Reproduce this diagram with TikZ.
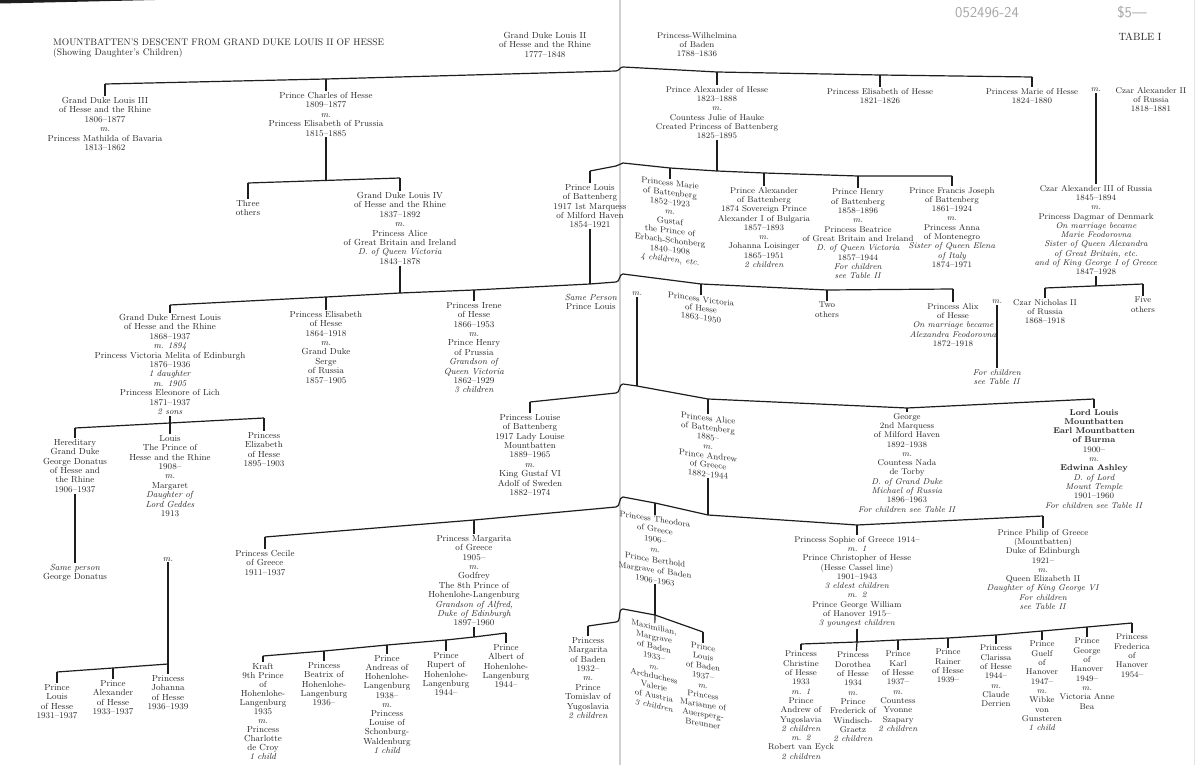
\documentclass[tikz,border=0pt]{standalone}
\usepackage{fontspec}
\usepackage{tikz}
\usetikzlibrary{positioning}
\definecolor{tableink}{HTML}{262626}
\definecolor{tableline}{HTML}{1E1E1E}
\definecolor{gutter}{HTML}{D0D0D0}
\definecolor{pencil}{HTML}{A6A6A6}

\begin{document}
\begin{tikzpicture}[
  x=1pt, y=-1pt,
  verso/.style={align=center, anchor=north, inner sep=1pt, text=tableink,
    font=\fontsize{8.8}{9.4}\selectfont},
  recto/.style={verso, font=\fontsize{8.4}{9.3}\selectfont},
  curled/.style={recto, font=\fontsize{8.2}{10.2}\selectfont},
  heading/.style={anchor=base west, inner sep=0pt, text=tableink,
    font=\fontsize{9.5}{10}\selectfont},
  bar/.style={draw=tableline, line width=1.2pt},
  spine/.style={draw=gutter, line width=2.5pt},
  hand/.style={text=pencil, font=\sffamily\fontsize{15}{15}\selectfont}
]
  \useasboundingbox (0,0) rectangle (1200,765);
  \fill[white] (0,0) rectangle (1200,765);
  \draw[spine] (620,0) -- (620,765);
  \draw[draw=gutter!60, line width=1pt] (1194,0) -- (1194,765);
  \fill[tableline] (0,0) -- (155,0) -- (0,3.5) -- cycle;

  \node[heading] (title) at (53,46) {MOUNTBATTEN'S DESCENT FROM GRAND DUKE LOUIS II OF HESSE};
  \node[heading] (subtitle) at (53,56) {(Showing Daughter's Children)};
  \node[heading, anchor=base, font=\fontsize{10.5}{12}\selectfont] (tableno) at (1140,41) {TABLE I};
  \node[hand] (lotno) at (987,13) {052496-24};
  \node[hand] (price) at (1132,12) {\$5---};

  \node[verso] (louisII) at (545,31) {Grand Duke Louis II\\of Hesse and the Rhine\\1777--1848};
  \node[recto] (wilhelmina) at (697,31) {Princess-Wilhelmina\\of Baden\\1788--1836};

  \node[verso] (louisIII) at (105,96) {Grand Duke Louis III\\of Hesse and the Rhine\\1806--1877\\\textit{m.}\\Princess Mathilda of Bavaria\\1813--1862};
  \node[verso] (charles) at (326,91) {Prince Charles of Hesse\\1809--1877\\\textit{m.}\\Princess Elisabeth of Prussia\\1815--1885};
  \node[recto] (alexHesse) at (717,85) {Prince Alexander of Hesse\\1823--1888\\\textit{m.}\\Countess Julie of Hauke\\Created Princess of Battenberg\\1825--1895};
  \node[recto] (elisabethHesse) at (880,87) {Princess Elisabeth of Hesse\\1821--1826};
  \node[recto] (marieHesse) at (1032,87) {Princess Marie of Hesse\\1824--1880};
  \node[recto] (mMarie) at (1096,87) {\textit{m.}};
  \node[recto] (czarII) at (1151,86) {Czar Alexander II\\of Russia\\1818--1881};

  \node[verso] (three) at (248,199) {Three\\others};
  \node[verso] (louisIV) at (400,191) {Grand Duke Louis IV\\of Hesse and the Rhine\\1837--1892\\\textit{m.}\\Princess Alice\\of Great Britain and Ireland\\\textit{D. of Queen Victoria}\\1843--1878};
  \node[verso] (louisBatt) at (590,183) {Prince Louis\\of Battenberg\\1917 1st Marquess\\of Milford Haven\\1854--1921};
  \node[recto, font=\fontsize{8.4}{9.5}\selectfont, yslant=-0.12] (marieBatt) at (670,179) {Princess Marie\\of Battenberg\\1852--1923\\\textit{m.}\\Gustaf\\the Prince of\\Erbach-Schonberg\\1840--1908\\\textit{4 children, etc.}};
  \node[recto] (alexBatt) at (764,186) {Prince Alexander\\of Battenberg\\1874 Sovereign Prince\\Alexander I of Bulgaria\\1857--1893\\\textit{m.}\\Johanna Loisinger\\1865--1951\\\textit{2 children}};
  \node[recto] (henryBatt) at (858,188) {Prince Henry\\of Battenberg\\1858--1896\\\textit{m.}\\Princess Beatrice\\of Great Britain and Ireland\\\textit{D. of Queen Victoria}\\1857--1944\\\textit{For children}\\\textit{see Table II}};
  \node[recto] (francisBatt) at (952,186) {Prince Francis Joseph\\of Battenberg\\1861--1924\\\textit{m.}\\Princess Anna\\of Montenegro\\\textit{Sister of Queen Elena}\\\textit{of Italy}\\1874--1971};
  \node[recto] (czarIII) at (1096,184) {Czar Alexander III of Russia\\1845--1894\\\textit{m.}\\Princess Dagmar of Denmark\\\textit{On marriage became}\\\textit{Marie Feodorovna}\\\textit{Sister of Queen Alexandra}\\\textit{of Great Britain, etc.}\\\textit{and of King George I of Greece}\\1847--1928};
  \node[recto] (nicholas) at (1045,298) {Czar Nicholas II\\of Russia\\1868--1918};
  \node[recto] (fiveOthers) at (1143,296) {Five\\others};

  \node[verso] (ernest) at (170,313) {Grand Duke Ernest Louis\\of Hesse and the Rhine\\1868--1937\\\textit{m. 1894}\\Princess Victoria Melita of Edinburgh\\1876--1936\\\textit{1 daughter}\\\textit{m. 1905}\\Princess Eleonore of Lich\\1871--1937\\\textit{2 sons}};
  \node[verso] (elisabethSerge) at (326,310) {Princess Elisabeth\\of Hesse\\1864--1918\\\textit{m.}\\Grand Duke\\Serge\\of Russia\\1857--1905};
  \node[verso] (irene) at (474,301) {Princess Irene\\of Hesse\\1866--1953\\\textit{m.}\\Prince Henry\\of Prussia\\\textit{Grandson of}\\\textit{Queen Victoria}\\1862--1929\\\textit{3 children}};
  \node[verso] (samePerson) at (591,293) {\textit{Same Person}\\Prince Louis};
  \node[recto] (mVictoria) at (637,291) {\textit{m.}};
  \node[recto, yslant=-0.14] (victoria) at (701,295) {Princess Victoria\\of Hesse\\1863--1950};
  \node[recto] (twoOthers) at (827,301) {Two\\others};
  \node[recto] (alix) at (953,302) {Princess Alix\\of Hesse\\\textit{On marriage became}\\\textit{Alexandra Feodorovna}\\1872--1918};
  \node[recto] (mAlix) at (997,299) {\textit{m.}};
  \node[recto] (alixChildren) at (997,368) {\textit{For children}\\\textit{see Table II}};

  \node[verso] (donatus) at (75,438) {Hereditary\\Grand Duke\\George Donatus\\of Hesse and\\the Rhine\\1906--1937};
  \node[verso] (louisPrince) at (170,434) {Louis\\The Prince of\\Hesse and the Rhine\\1908--\\\textit{m.}\\Margaret\\\textit{Daughter of}\\\textit{Lord Geddes}\\1913};
  \node[verso] (elizabethHesse) at (264,431) {Princess\\Elizabeth\\of Hesse\\1895--1903};
  \node[verso] (sameDonatus) at (75,563) {\textit{Same person}\\George Donatus};
  \node[verso] (mCecile) at (168,556) {\textit{m.}};
  \node[verso] (louisH) at (57,683) {Prince\\Louis\\of Hesse\\1931--1937};
  \node[verso] (alexanderH) at (113,679) {Prince\\Alexander\\of Hesse\\1933--1937};
  \node[verso] (johanna) at (168,674) {Princess\\Johanna\\of Hesse\\1936--1939};

  \node[verso] (louise) at (530,413) {Princess Louise\\of Battenberg\\1917 Lady Louise\\Mountbatten\\1889--1965\\\textit{m.}\\King Gustaf VI\\Adolf of Sweden\\1882--1974};
  \node[recto, yslant=-0.12] (aliceBatt) at (708,414) {Princess Alice\\of Battenberg\\1885--\\\textit{m.}\\Prince Andrew\\of Greece\\1882--1944};
  \node[recto] (georgeMH) at (907,412) {George\\2nd Marquess\\of Milford Haven\\1892--1938\\\textit{m.}\\Countess Nada\\de Torby\\\textit{D. of Grand Duke}\\\textit{Michael of Russia}\\1896--1963\\\textit{For children see Table II}};
  \node[recto] (lordLouis) at (1094,408) {\textbf{Lord Louis}\\\textbf{Mountbatten}\\\textbf{Earl Mountbatten}\\\textbf{of Burma}\\1900--\\\textit{m.}\\\textbf{Edwina Ashley}\\\textit{D. of Lord}\\\textit{Mount Temple}\\1901--1960\\\textit{For children see Table II}};

  \node[verso] (cecile) at (265,549) {Princess Cecile\\of Greece\\1911--1937};
  \node[verso] (margarita) at (474,534) {Princess Margarita\\of Greece\\1905--\\\textit{m.}\\Godfrey\\The 8th Prince of\\Hohenlohe-Langenburg\\\textit{Grandson of Alfred,}\\\textit{Duke of Edinburgh}\\1897--1960};
  \node[curled, yslant=-0.16] (theodora) at (655,515) {Princess Theodora\\of Greece\\1906--\\\textit{m.}\\Prince Berthold\\Margrave of Baden\\1906--1963};
  \node[recto] (sophie) at (857,535) {Princess Sophie of Greece 1914--\\\textit{m. 1}\\Prince Christopher of Hesse\\(Hesse Cassel line)\\1901--1943\\\textit{3 eldest children}\\\textit{m. 2}\\Prince George William\\of Hanover 1915--\\\textit{3 youngest children}};
  \node[recto] (philip) at (1043,528) {Prince Philip of Greece\\(Mountbatten)\\Duke of Edinburgh\\1921--\\\textit{m.}\\Queen Elizabeth II\\\textit{Daughter of King George VI}\\\textit{For children}\\\textit{see Table II}};

  \node[verso, font=\fontsize{8.8}{9}\selectfont] (kraft) at (263,662) {Kraft\\9th Prince\\of\\Hohenlohe-\\Langenburg\\1935\\\textit{m.}\\Princess\\Charlotte\\de Croy\\\textit{1 child}};
  \node[verso] (beatrix) at (324,661) {Princess\\Beatrix of\\Hohenlohe-\\Langenburg\\1936--};
  \node[verso, font=\fontsize{8.8}{9.2}\selectfont] (andreas) at (387,654) {Prince\\Andreas of\\Hohenlohe-\\Langenburg\\1938--\\\textit{m.}\\Princess\\Louise of\\Schonburg-\\Waldenburg\\\textit{1 child}};
  \node[verso] (rupert) at (446,651) {Prince\\Rupert of\\Hohenlohe-\\Langenburg\\1944--};
  \node[verso] (albert) at (506,643) {Prince\\Albert of\\Hohenlohe-\\Langenburg\\1944--};
  \node[verso] (margaritaBaden) at (588,636) {Princess\\Margarita\\of Baden\\1932--\\\textit{m.}\\Prince\\Tomislav of\\Yugoslavia\\\textit{2 children}};
  \node[curled, font=\fontsize{8.2}{9.8}\selectfont, yslant=-0.22] (maximilian) at (654,623) {Maximilian,\\Margrave\\of Baden\\1933--\\\textit{m.}\\Archduchess\\Valerie\\of Austria\\\textit{3 children}};
  \node[curled, font=\fontsize{8.2}{9.6}\selectfont, yslant=-0.15] (louisBaden) at (703,643) {Prince\\Louis\\of Baden\\1937--\\\textit{m.}\\Princess\\Marianne of\\Auersperg-\\Breunner};

  \node[recto] (christine) at (801,650) {Princess\\Christine\\of Hesse\\1933\\\textit{m. 1}\\Prince\\Andrew of\\Yugoslavia\\\textit{2 children}\\\textit{m. 2}\\Robert van Eyck\\\textit{2 children}};
  \node[recto] (dorothea) at (853,651) {Princess\\Dorothea\\of Hesse\\1934\\\textit{m.}\\Prince\\Frederick of\\Windisch-\\Graetz\\\textit{2 children}};
  \node[recto] (karl) at (898,650) {Prince\\Karl\\of Hesse\\1937--\\\textit{m.}\\Countess\\Yvonne\\Szapary\\\textit{2 children}};
  \node[recto] (rainer) at (948,648) {Prince\\Rainer\\of Hesse\\1939--};
  \node[recto] (clarissa) at (996,644) {Princess\\Clarissa\\of Hesse\\1944--\\\textit{m.}\\Claude\\Derrien};
  \node[recto] (guelf) at (1042,640) {Prince\\Guelf\\of\\Hanover\\1947--\\\textit{m.}\\Wibke\\von\\Gunsteren\\\textit{1 child}};
  \node[recto] (georgeH) at (1087,637) {Prince\\George\\of\\Hanover\\1949--\\\textit{m.}\\Victoria Anne\\Bea};
  \node[recto] (frederica) at (1132,633) {Princess\\Frederica\\of\\Hanover\\1954--};

  \coordinate (t1) at (105,84);
  \coordinate (t2) at (326,79);
  \coordinate (tL) at (616,71);
  \coordinate (tR) at (623,67);
  \coordinate (t4) at (717,72);
  \coordinate (t5) at (880,75);
  \coordinate (t6) at (1032,77);
  \coordinate (c1) at (248,183);
  \coordinate (c2) at (326,180);
  \coordinate (c3) at (400,178);
  \coordinate (b1) at (590,171);
  \coordinate (bL) at (616,166);
  \coordinate (bR) at (623,163);
  \coordinate (b2) at (670,168);
  \coordinate (b3) at (717,171);
  \coordinate (b4) at (764,173);
  \coordinate (b5) at (858,176);
  \coordinate (b6) at (952,176);
  \coordinate (n1) at (1045,288);
  \coordinate (n0) at (1096,286);
  \coordinate (n2) at (1143,284);
  \coordinate (g1) at (170,305);
  \coordinate (g2) at (326,297);
  \coordinate (g3) at (400,293);
  \coordinate (g4) at (474,290);
  \coordinate (g5) at (590,284);
  \coordinate (gL) at (616,282);
  \coordinate (gR) at (623,274);
  \coordinate (g6) at (701,284);
  \coordinate (g7) at (827,290);
  \coordinate (g8) at (953,289);
  \coordinate (e1) at (75,428);
  \coordinate (e2) at (170,423);
  \coordinate (e3) at (264,418);
  \coordinate (h1) at (57,672);
  \coordinate (h2) at (113,668);
  \coordinate (h3) at (168,664);
  \coordinate (k1) at (530,402);
  \coordinate (kL) at (616,393);
  \coordinate (kR) at (623,384);
  \coordinate (km) at (637,386);
  \coordinate (k2) at (708,399);
  \coordinate (k3) at (907,408);
  \coordinate (k4) at (1094,399);
  \coordinate (s1) at (265,537);
  \coordinate (s2) at (474,520);
  \coordinate (sL) at (616,507);
  \coordinate (sR) at (623,497);
  \coordinate (s3) at (655,503);
  \coordinate (s4) at (708,515);
  \coordinate (s5) at (857,525);
  \coordinate (s6) at (1043,516);
  \coordinate (m1) at (263,656);
  \coordinate (m2) at (324,651);
  \coordinate (m3) at (387,645);
  \coordinate (m4) at (446,640);
  \coordinate (m0) at (474,637);
  \coordinate (m5) at (506,633);
  \coordinate (v1) at (588,626);
  \coordinate (vL) at (616,622);
  \coordinate (vR) at (623,609);
  \coordinate (v0) at (655,615);
  \coordinate (v3) at (703,632);
  \coordinate (w1) at (801,644);
  \coordinate (w2) at (857,642);
  \coordinate (w3) at (898,640);
  \coordinate (w4) at (948,638);
  \coordinate (w5) at (996,635);
  \coordinate (w6) at (1042,631);
  \coordinate (w7) at (1087,627);
  \coordinate (w8) at (1132,623);

  \draw[bar] (t1) -- (t2) -- (tL) to[out=0,in=180] (tR) -- (t4) -- (t5) -- (t6);
  \draw[bar] (t1) -- (louisIII);
  \draw[bar] (t2) -- (charles);
  \draw[bar] (t4) -- (alexHesse);
  \draw[bar] (t5) -- (elisabethHesse);
  \draw[bar] (t6) -- (marieHesse);
  \draw[bar] (mMarie) -- (czarIII);

  \draw[bar] (charles) -- (c2);
  \draw[bar] (c1) -- (c3);
  \draw[bar] (c1) -- (three);
  \draw[bar] (c3) -- (louisIV);

  \draw[bar] (alexHesse) -- (b3);
  \draw[bar] (b1) -- (bL) to[out=0,in=180] (bR) -- (b2) -- (b3) -- (b4) -- (b5) -- (b6);
  \draw[bar] (b1) -- (louisBatt);
  \draw[bar] (b2) -- (marieBatt);
  \draw[bar] (b4) -- (alexBatt);
  \draw[bar] (b5) -- (henryBatt);
  \draw[bar] (b6) -- (francisBatt);

  \draw[bar] (czarIII) -- (n0);
  \draw[bar] (n1) -- (n2);
  \draw[bar] (n1) -- (nicholas);
  \draw[bar] (n2) -- (fiveOthers);

  \draw[bar] (louisIV) -- (g3);
  \draw[bar] (g1) -- (g2) -- (g3) -- (g4) -- (g5) -- (gL) to[out=0,in=180] (gR) -- (g6) -- (g7) -- (g8);
  \draw[bar] (g1) -- (ernest);
  \draw[bar] (g2) -- (elisabethSerge);
  \draw[bar] (g4) -- (irene);
  \draw[bar] (louisBatt) -- (g5);
  \draw[bar] (g6) -- (victoria);
  \draw[bar] (g7) -- (twoOthers);
  \draw[bar] (g8) -- (alix);
  \draw[bar] (mAlix) -- (alixChildren);

  \draw[bar] (ernest) -- (e2);
  \draw[bar] (e1) -- (e2) -- (e3);
  \draw[bar] (e1) -- (donatus);
  \draw[bar] (e2) -- (louisPrince);
  \draw[bar] (e3) -- (elizabethHesse);
  \draw[bar] (donatus) -- (sameDonatus);
  \draw[bar] (mCecile) -- (h3);
  \draw[bar] (h1) -- (h2) -- (h3);
  \draw[bar] (h1) -- (louisH);
  \draw[bar] (h2) -- (alexanderH);
  \draw[bar] (h3) -- (johanna);

  \draw[bar] (mVictoria) -- (km);
  \draw[bar] (k1) -- (kL) to[out=0,in=180] (kR) -- (km) -- (k2) -- (k3) -- (k4);
  \draw[bar] (k1) -- (louise);
  \draw[bar] (k2) -- (aliceBatt);
  \draw[bar] (k3) -- (georgeMH);
  \draw[bar] (k4) -- (lordLouis);

  \draw[bar] (aliceBatt) -- (s4);
  \draw[bar] (s1) -- (s2) -- (sL) to[out=0,in=180] (sR) -- (s3) -- (s4) -- (s5) -- (s6);
  \draw[bar] (s1) -- (cecile);
  \draw[bar] (s2) -- (margarita);
  \draw[bar] (s3) -- (theodora);
  \draw[bar] (s5) -- (sophie);
  \draw[bar] (s6) -- (philip);

  \draw[bar] (margarita) -- (m0);
  \draw[bar] (m1) -- (m2) -- (m3) -- (m4) -- (m0) -- (m5);
  \draw[bar] (m1) -- (kraft);
  \draw[bar] (m2) -- (beatrix);
  \draw[bar] (m3) -- (andreas);
  \draw[bar] (m4) -- (rupert);
  \draw[bar] (m5) -- (albert);

  \draw[bar] (theodora) -- (v0);
  \draw[bar] (v1) -- (vL) to[out=0,in=180] (vR) -- (v0) -- (v3);
  \draw[bar] (v1) -- (margaritaBaden);
  \draw[bar] (v0) -- (maximilian);
  \draw[bar] (v3) -- (louisBaden);

  \draw[bar] (sophie) -- (w2);
  \draw[bar] (w1) -- (w2) -- (w3) -- (w4) -- (w5) -- (w6) -- (w7) -- (w8);
  \draw[bar] (w1) -- (christine);
  \draw[bar] (w2) -- (dorothea);
  \draw[bar] (w3) -- (karl);
  \draw[bar] (w4) -- (rainer);
  \draw[bar] (w5) -- (clarissa);
  \draw[bar] (w6) -- (guelf);
  \draw[bar] (w7) -- (georgeH);
  \draw[bar] (w8) -- (frederica);
\end{tikzpicture}
\end{document}
